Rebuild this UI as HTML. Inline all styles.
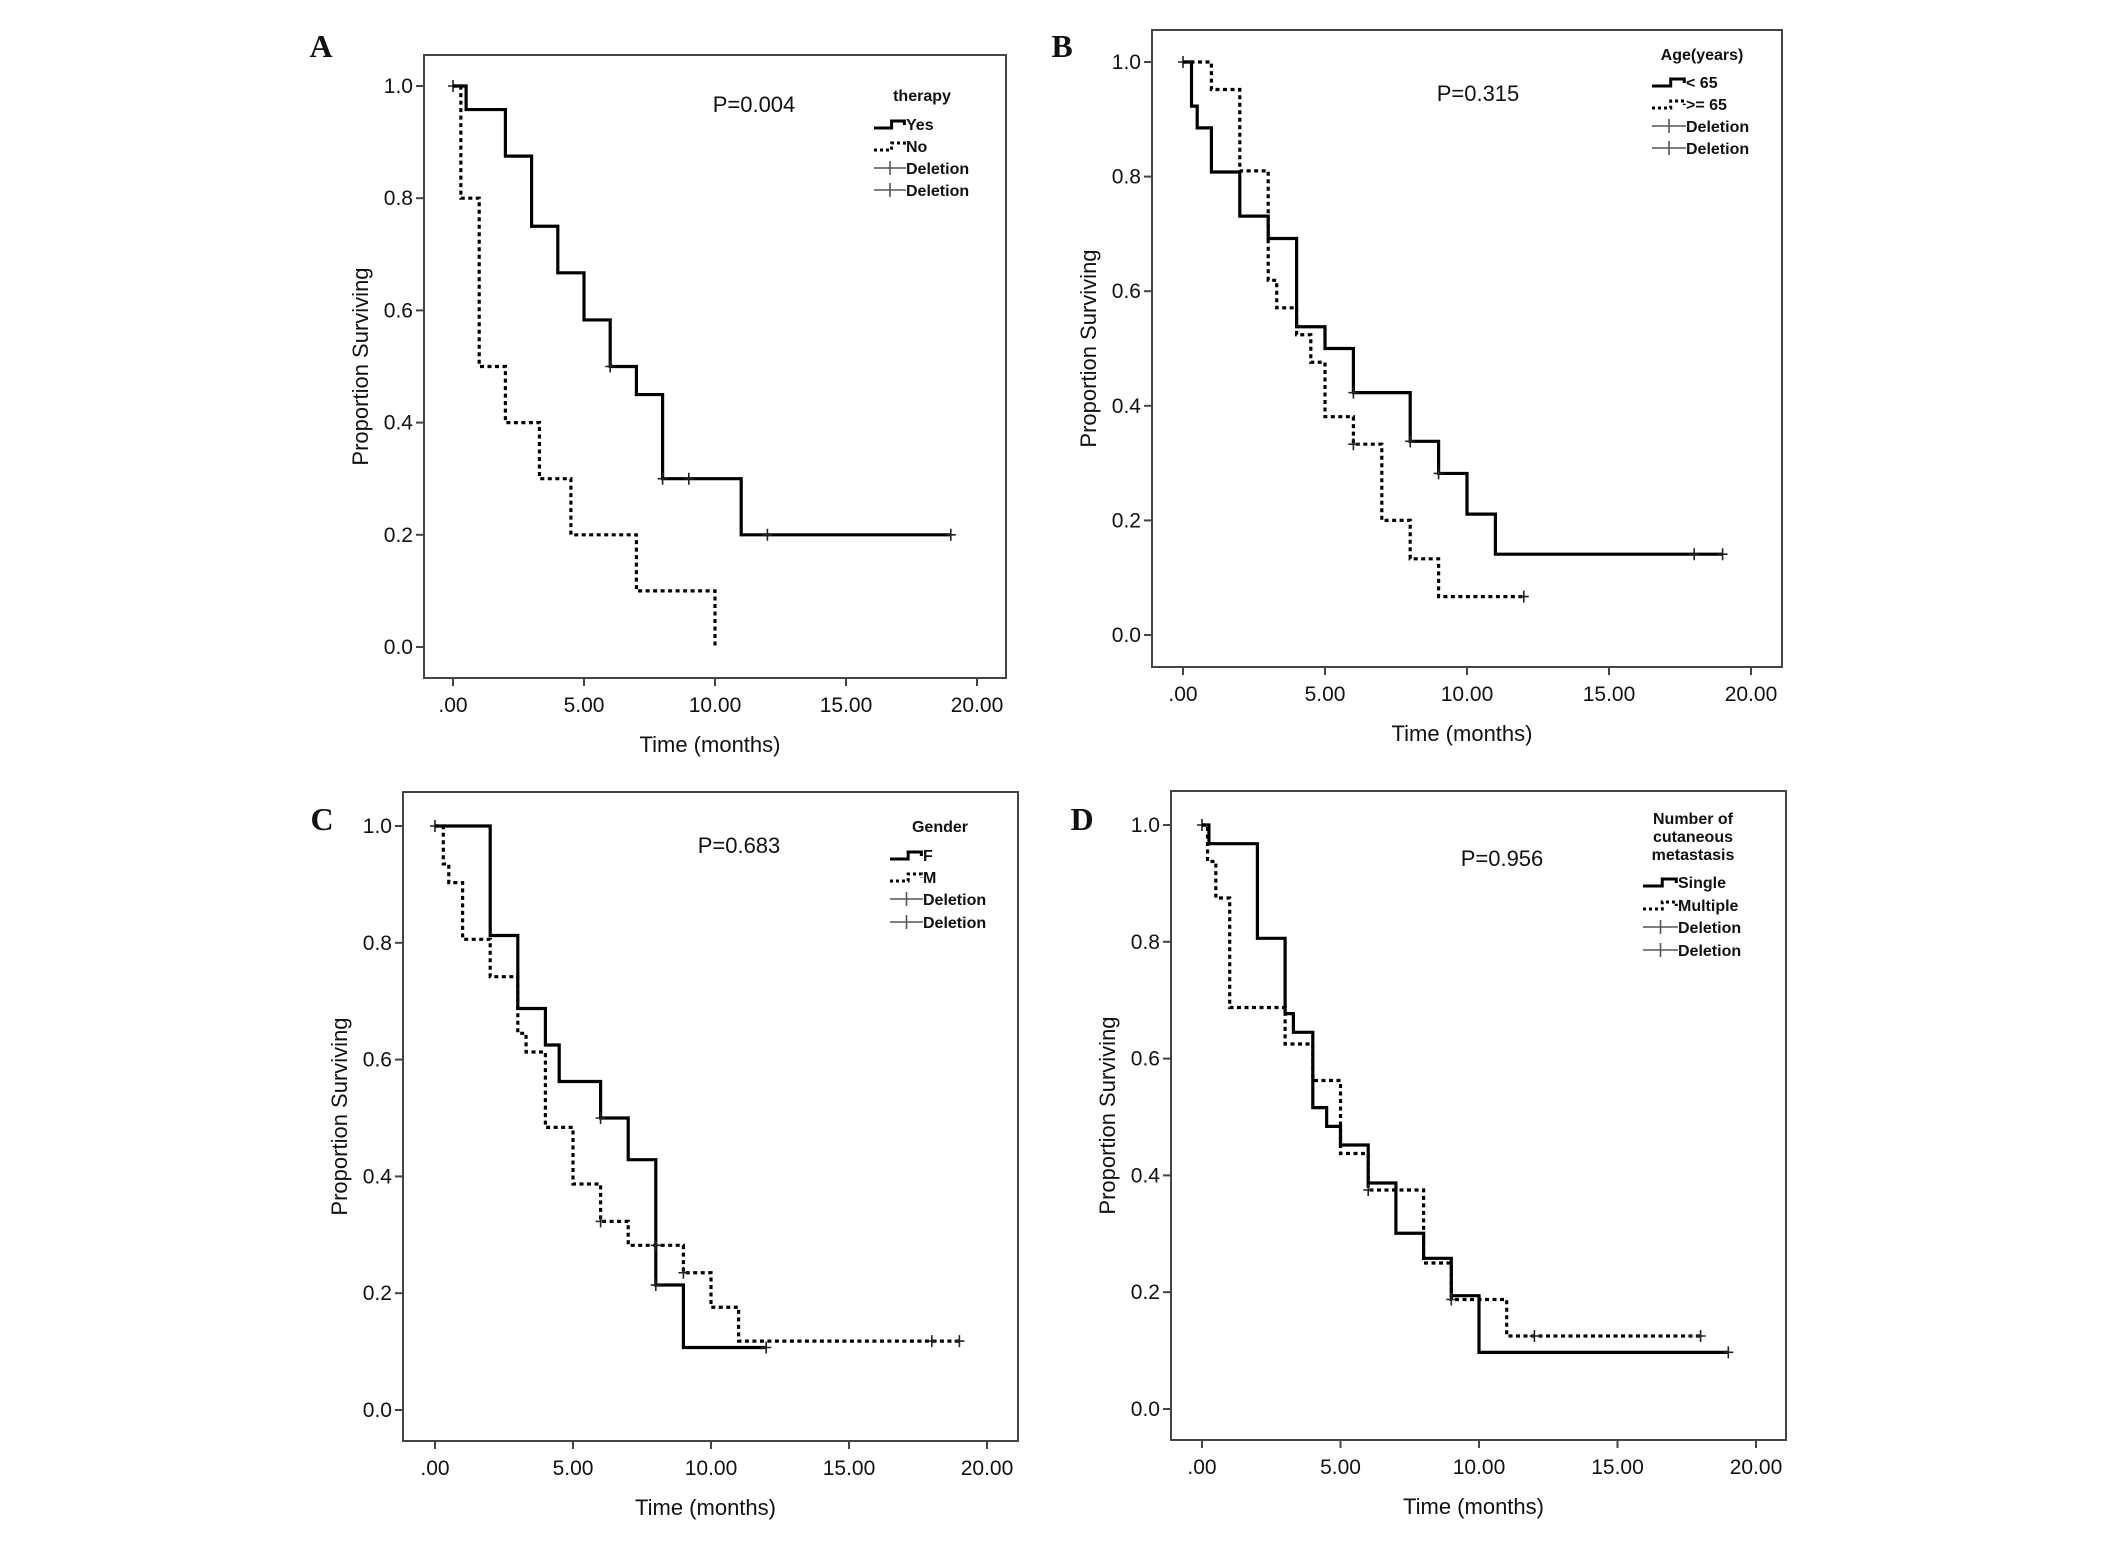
<!DOCTYPE html>
<html><head><meta charset="utf-8">
<style>
html,body{margin:0;padding:0;background:#fff;}
svg{display:block;}
text{font-family:"Liberation Sans",Arial,sans-serif;fill:#111;}
</style></head>
<body>
<svg id="chart" width="2126" height="1558" viewBox="0 0 2126 1558" xmlns="http://www.w3.org/2000/svg"></svg>
<script>
// ---- data (months, survival proportion) ----
const xTicks = [0, 5, 10, 15, 20];
const xTickLabels = [".00", "5.00", "10.00", "15.00", "20.00"];
const yTicks = [0, 0.2, 0.4, 0.6, 0.8, 1.0];
const yTickLabels = ["0.0", "0.2", "0.4", "0.6", "0.8", "1.0"];

// Panel A: therapy
const aYesTimes = [0.5, 2, 3, 4, 5, 6, 7, 8, 11];
const aYesSurv = [0.958, 0.875, 0.75, 0.667, 0.583, 0.5, 0.45, 0.3, 0.2];
const aYesEnd = 19;
const aYesCensorT = [0, 6, 8, 9, 12, 19];
const aYesCensorS = [1.0, 0.5, 0.3, 0.3, 0.2, 0.2];
const aNoTimes = [0.3, 1, 2, 3.3, 4.5, 7, 10];
const aNoSurv = [0.8, 0.5, 0.4, 0.3, 0.2, 0.1, 0.0];
const aNoEnd = 10;
const aNoCensorT = [];
const aNoCensorS = [];

// Panel B: age
const bYTimes = [0.3, 0.5, 1, 2, 3, 4, 5, 6, 8, 9, 10, 11];
const bYSurv = [0.923, 0.885, 0.808, 0.731, 0.692, 0.538, 0.5, 0.423, 0.338, 0.282, 0.211, 0.141];
const bYEnd = 19;
const bYCensorT = [0, 6, 8, 9, 18, 19];
const bYCensorS = [1.0, 0.423, 0.338, 0.282, 0.141, 0.141];
const bOTimes = [1, 2, 3, 3.3, 4, 4.5, 5, 6, 7, 8, 9];
const bOSurv = [0.952, 0.81, 0.619, 0.571, 0.524, 0.476, 0.381, 0.333, 0.2, 0.133, 0.067];
const bOEnd = 12;
const bOCensorT = [6, 12];
const bOCensorS = [0.333, 0.067];

// Panel C: gender
const cFTimes = [2, 3, 4, 4.5, 6, 7, 8, 9];
const cFSurv = [0.8125, 0.6875, 0.625, 0.5625, 0.5, 0.4286, 0.214, 0.107];
const cFEnd = 12;
const cFCensorT = [0, 6, 8, 12];
const cFCensorS = [1.0, 0.5, 0.214, 0.107];
const cMTimes = [0.3, 0.5, 1, 2, 3, 3.3, 4, 5, 6, 7, 9, 10, 11];
const cMSurv = [0.935, 0.903, 0.806, 0.742, 0.645, 0.613, 0.484, 0.387, 0.323, 0.282, 0.235, 0.176, 0.118];
const cMEnd = 19;
const cMCensorT = [6, 8, 9, 18, 19];
const cMCensorS = [0.323, 0.282, 0.235, 0.118, 0.118];

// Panel D: number of cutaneous metastasis
const dSTimes = [0.25, 2, 3, 3.3, 4, 4.5, 5, 6, 7, 8, 9, 10];
const dSSurv = [0.968, 0.806, 0.677, 0.645, 0.516, 0.484, 0.452, 0.387, 0.301, 0.258, 0.194, 0.097];
const dSEnd = 19;
const dSCensorT = [0, 19];
const dSCensorS = [1.0, 0.097];
const dMTimes = [0.2, 0.5, 1, 3, 4, 5, 6, 8, 9, 11];
const dMSurv = [0.9375, 0.875, 0.6875, 0.625, 0.5625, 0.4375, 0.375, 0.25, 0.1875, 0.125];
const dMEnd = 18;
const dMCensorT = [6, 9, 12, 18];
const dMCensorS = [0.375, 0.1875, 0.125, 0.125];

const NS = "http://www.w3.org/2000/svg";
const svg = document.getElementById("chart");
function mk(tag, attrs, parent) {
  const e = document.createElementNS(NS, tag);
  for (const k in attrs) e.setAttribute(k, attrs[k]);
  (parent || svg).appendChild(e);
  return e;
}

const panels = [
  {id:"a", letter:"A", lx:321, ly:57, box:[424,55,1006,678], x0:453, x20:977, y1:86, y0:647,
   p:"P=0.004", px:754, py:112, lgTitle:["therapy"], lgTx:922, lgTy:101, rows:[127,149,171,193], sx:874, tx:906,
   names:["Yes","No"],
   s1:[aYesTimes,aYesSurv,aYesEnd,aYesCensorT,aYesCensorS], s2:[aNoTimes,aNoSurv,aNoEnd,aNoCensorT,aNoCensorS]},
  {id:"b", letter:"B", lx:1062, ly:57, box:[1152,30,1782,667], x0:1183, x20:1751, y1:62, y0:635,
   p:"P=0.315", px:1478, py:101, lgTitle:["Age(years)"], lgTx:1702, lgTy:60, rows:[85,107,129,151], sx:1652, tx:1686,
   names:["< 65",">= 65"],
   s1:[bYTimes,bYSurv,bYEnd,bYCensorT,bYCensorS], s2:[bOTimes,bOSurv,bOEnd,bOCensorT,bOCensorS]},
  {id:"c", letter:"C", lx:322, ly:830, box:[403,792,1018,1441], x0:435, x20:987, y1:826, y0:1410,
   p:"P=0.683", px:739, py:853, lgTitle:["Gender"], lgTx:940, lgTy:832, rows:[858,880,902,925], sx:890, tx:923,
   names:["F","M"],
   s1:[cFTimes,cFSurv,cFEnd,cFCensorT,cFCensorS], s2:[cMTimes,cMSurv,cMEnd,cMCensorT,cMCensorS]},
  {id:"d", letter:"D", lx:1082, ly:830, box:[1171,791,1786,1440], x0:1202, x20:1756, y1:825, y0:1409,
   p:"P=0.956", px:1502, py:866, lgTitle:["Number of","cutaneous","metastasis"], lgTx:1693, lgTy:824, rows:[885,908,930,953], sx:1643, tx:1678,
   names:["Single","Multiple"],
   s1:[dSTimes,dSSurv,dSEnd,dSCensorT,dSCensorS], s2:[dMTimes,dMSurv,dMEnd,dMCensorT,dMCensorS]}
];

panels.forEach(P => {
  const g = mk("g", {});
  
  
  const xs = v => P.x0 + (P.x20 - P.x0) * v / 20;
  const ys = v => P.y0 + (P.y1 - P.y0) * v;
  const [l,t,r,b] = P.box;

  const lt = mk("text", {x:P.lx, y:P.ly, "text-anchor":"middle", style:"font-family:'Liberation Serif',serif;font-weight:bold;font-size:32px"}, g);
  lt.textContent = P.letter;
  
  

  const box = mk("rect", {x:l, y:t, width:r-l, height:b-t, fill:"none", stroke:"#444", "stroke-width":2}, g);
  
  

  yTicks.forEach((v,i) => {
    const tk = mk("line", {x1:l-8, x2:l, y1:ys(v), y2:ys(v), stroke:"#444", "stroke-width":2}, g);
    
    
    const tl = mk("text", {x:l-11, y:ys(v)+7, "text-anchor":"end", "font-size":21}, g);
    tl.textContent = yTickLabels[i];
    
    
  });
  xTicks.forEach((v,i) => {
    const tk = mk("line", {x1:xs(v), x2:xs(v), y1:b, y2:b+8, stroke:"#444", "stroke-width":2}, g);
    
    
    const tl = mk("text", {x:xs(v), y:b+34, "text-anchor":"middle", "font-size":21}, g);
    tl.textContent = xTickLabels[i];
    
    
  });
  const xt = mk("text", {x:(l+r)/2 - 5, y:b+74, "text-anchor":"middle", "font-size":22}, g);
  xt.textContent = "Time (months)";
  
  
  const ycx = l - 56, ycy = (t+b)/2;
  const yt = mk("text", {x:ycx, y:ycy, "text-anchor":"middle", "font-size":22, transform:`rotate(-90 ${ycx} ${ycy})`}, g);
  yt.textContent = "Proportion Surviving";
  
  

  const pt = mk("text", {x:P.px, y:P.py, "text-anchor":"middle", "font-size":22}, g);
  pt.textContent = P.p;
  
  

  [P.s1, P.s2].forEach((s, si) => {
    const [times, surv, end, ct, cs] = s;
    let d = `M${xs(0)},${ys(1)}`;
    let cur = 1;
    times.forEach((tm, i) => {
      d += ` H${xs(tm)} V${ys(surv[i])}`;
      cur = surv[i];
    });
    d += ` H${xs(end)}`;
    const path = mk("path", {d:d, fill:"none", stroke:"#000", "stroke-width":3.2,
      "stroke-dasharray": si === 1 ? "4 3.5" : "none"}, g);
    
    
    ct.forEach((c, i) => {
      const m = mk("path", {d:`M${xs(c)},${ys(cs[i])-6} V${ys(cs[i])+6} M${xs(c)-5},${ys(cs[i])} H${xs(c)+5}`, stroke:"#222", "stroke-width":1.6, fill:"none"}, g);
      
      
    });
  });

  // legend
  const lg = mk("g", {}, g);
  
  
  P.lgTitle.forEach((ln, i) => {
    const tt = mk("text", {x:P.lgTx, y:P.lgTy + i*18, "text-anchor":"middle", "font-size":16, "font-weight":"bold", fill:"#333"}, lg);
    tt.textContent = ln;
    
    
  });
  const labels = [P.names[0], P.names[1], "Deletion", "Deletion"];
  P.rows.forEach((ry, i) => {
    const sx = P.sx, w = P.tx - P.sx;
    let sym;
    if (i < 2) {
      sym = mk("path", {d:`M${sx},${ry+1} H${sx+w*0.55} V${ry-6} H${sx+w*0.95} V${ry-2}`, fill:"none", stroke:"#000", "stroke-width":3,
        "stroke-dasharray": i === 1 ? "3 3" : "none"}, lg);
    } else {
      sym = mk("path", {d:`M${sx},${ry-3} H${sx+w} M${sx+w/2},${ry-10} V${ry+4}`, fill:"none", stroke:"#555", "stroke-width":1.6}, lg);
    }
    
    
    const tx = mk("text", {x:P.tx, y:ry+3, "font-size":16, "font-weight":"bold", fill:"#222"}, lg);
    tx.textContent = labels[i];
    
    
  });
});
</script>
</body></html>
